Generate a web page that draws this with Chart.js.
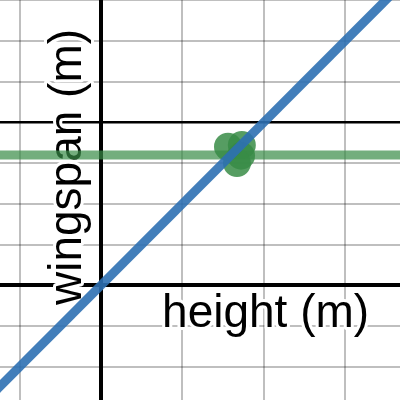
<!DOCTYPE html>
<html>
<head>
<meta charset="utf-8">
<style>
html, body { margin: 0; padding: 0; background: #fff; }
#chart { display: block; }
</style>
<script src="https://cdn.jsdelivr.net/npm/chart.js@4.4.1/dist/chart.umd.min.js"></script>
</head>
<body>
<canvas id="chart" width="400" height="400"></canvas>
<script>
// measured people: height vs wingspan (m)
const heights = [1.56, 1.73, 1.72, 1.67];
const wingspans = [1.70, 1.72, 1.59, 1.50];
const meanWingspan = 1.6;

// y = x reference line and horizontal mean line span
const lineXs = [-2, 4];

const xTicks = [-1, 0, 1, 2, 3];
const yTicks = [-1, -0.5, 0, 0.5, 1, 1.5, 2, 2.5, 3, 3.5];

const xTitle = 'height (m)';
const yTitle = 'wingspan (m)';

const blue = 'rgba(45, 112, 179, 0.9)';
const green = 'rgba(56, 140, 70, 0.7)';
const greenDot = 'rgba(56, 140, 70, 0.85)';
const gridGray = 'rgba(0, 0, 0, 0.25)';

// labels drawn under the data, with a white halo like the original
const labelPlugin = {
    id: 'labels',
    beforeDatasetsDraw(chart) {
        const { ctx, scales } = chart;
        ctx.save();
        ctx.font = '46px "Liberation Sans", Arial, sans-serif';
        ctx.textBaseline = 'alphabetic';
        ctx.textAlign = 'left';
        ctx.lineJoin = 'round';
        ctx.lineWidth = 6;
        ctx.strokeStyle = '#fff';
        ctx.fillStyle = '#000';

        const hx = scales.x.getPixelForValue(0.75);
        const hy = scales.y.getPixelForValue(-0.51);
        ctx.strokeText(xTitle, hx, hy);
        ctx.fillText(xTitle, hx, hy);

        const wx = scales.x.getPixelForValue(-0.252);
        const wy = scales.y.getPixelForValue(-0.242);
        ctx.translate(wx, wy);
        ctx.rotate(-Math.PI / 2);
        ctx.strokeText(yTitle, 0, 0);
        ctx.fillText(yTitle, 0, 0);
        ctx.restore();
    }
};

const gridFor = (blackAt) => ({
    drawTicks: false,
    color: (c) => (c.tick && blackAt[c.tick.value] ? '#000' : gridGray),
    lineWidth: (c) => (c.tick && blackAt[c.tick.value] ? blackAt[c.tick.value] : 2)
});

new Chart(document.getElementById('chart'), {
    type: 'scatter',
    data: {
        datasets: [{
            data: lineXs.map(x => ({ x, y: x })),
            showLine: true,
            borderColor: blue,
            borderWidth: 9,
            pointRadius: 0,
            order: 0
        }, {
            data: heights.map((h, i) => ({ x: h, y: wingspans[i] })),
            backgroundColor: greenDot,
            borderWidth: 0,
            pointRadius: 14,
            order: 1
        }, {
            data: lineXs.map(x => ({ x, y: meanWingspan })),
            showLine: true,
            borderColor: green,
            borderWidth: 9,
            pointRadius: 0,
            order: 2
        }]
    },
    options: {
        responsive: false,
        animation: false,
        devicePixelRatio: 1,
        layout: { padding: 0, autoPadding: false },
        plugins: {
            legend: { display: false },
            tooltip: { enabled: false }
        },
        scales: {
            x: {
                type: 'linear',
                min: -1.241,
                max: 3.673,
                afterBuildTicks: (scale) => { scale.ticks = xTicks.map(value => ({ value })); },
                ticks: { display: false },
                border: { display: false },
                grid: gridFor({ 0: 4 })
            },
            y: {
                type: 'linear',
                min: -1.407,
                max: 3.5,
                afterBuildTicks: (scale) => { scale.ticks = yTicks.map(value => ({ value })); },
                ticks: { display: false },
                border: { display: false },
                grid: gridFor({ 0: 4, 2: 2.5 })
            }
        }
    },
    plugins: [labelPlugin]
});
</script>
</body>
</html>
